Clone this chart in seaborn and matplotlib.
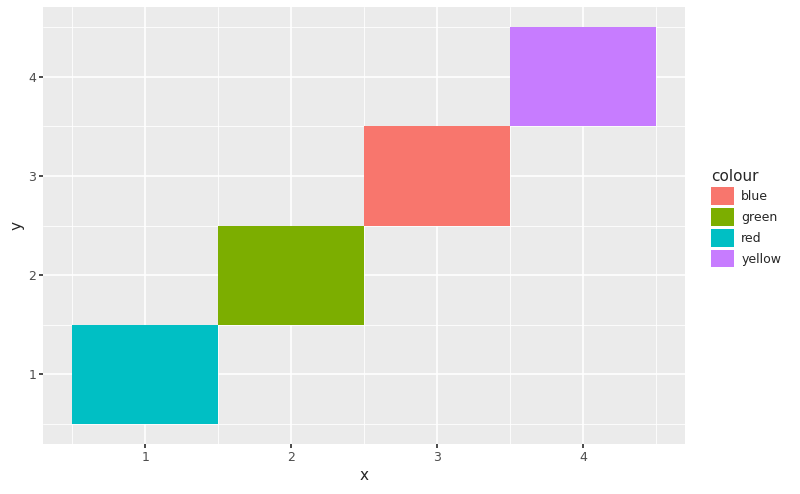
import matplotlib
matplotlib.use("Agg")
import matplotlib.pyplot as plt
from matplotlib.patches import Patch
import seaborn as sns

x = [1, 2, 3, 4]
y = [1, 2, 3, 4]
colour = ["red", "green", "blue", "yellow"]
legend_order = ["blue", "green", "red", "yellow"]
palette = {"blue": "#F8766D", "green": "#7CAE00", "red": "#00BFC4", "yellow": "#C77CFF"}

sns.set_theme(style="darkgrid", rc={
    "axes.facecolor": "#EBEBEB",
    "grid.color": "white",
    "axes.edgecolor": "#EBEBEB",
})
plt.rcParams["font.family"] = ["DejaVu Sans"]

fig = plt.figure(figsize=(8, 4.94), dpi=100)
ax = fig.add_axes([43 / 800, 50 / 494, 642 / 800, 437 / 494])

for xi, yi, c in zip(x, y, colour):
    ax.bar(xi, 1, width=1, bottom=yi - 0.5, color=palette[c], linewidth=0, zorder=3)

ax.set_xlim(0.3, 4.7)
ax.set_ylim(0.3, 4.7)
ax.set_xticks(x)
ax.set_yticks(y)
ax.set_xticks([0.5, 1.5, 2.5, 3.5, 4.5], minor=True)
ax.set_yticks([0.5, 1.5, 2.5, 3.5, 4.5], minor=True)
ax.grid(True, which="major", color="white", linewidth=1.2, zorder=0)
ax.grid(True, which="minor", color="white", linewidth=0.6, zorder=0)
ax.tick_params(which="major", length=3, color="#333333", labelsize=9, labelcolor="#4D4D4D", pad=2,
               bottom=True, left=True)
ax.tick_params(which="minor", length=0)
for s in ax.spines.values():
    s.set_visible(False)
ax.set_xlabel("x", fontsize=11, labelpad=3)
ax.set_ylabel("y", fontsize=11, labelpad=3)

handles = [Patch(facecolor=palette[c], edgecolor="none", label=c) for c in legend_order]
leg = fig.legend(handles=handles, title="colour", loc="upper left", bbox_to_anchor=(700 / 800, 1 - 158 / 494),
                 frameon=False, fontsize=9, title_fontsize=11, handlelength=1.8, handleheight=1.8,
                 handletextpad=0.6, labelspacing=0.25, alignment="left")

fig.savefig("out.png", dpi=100)
